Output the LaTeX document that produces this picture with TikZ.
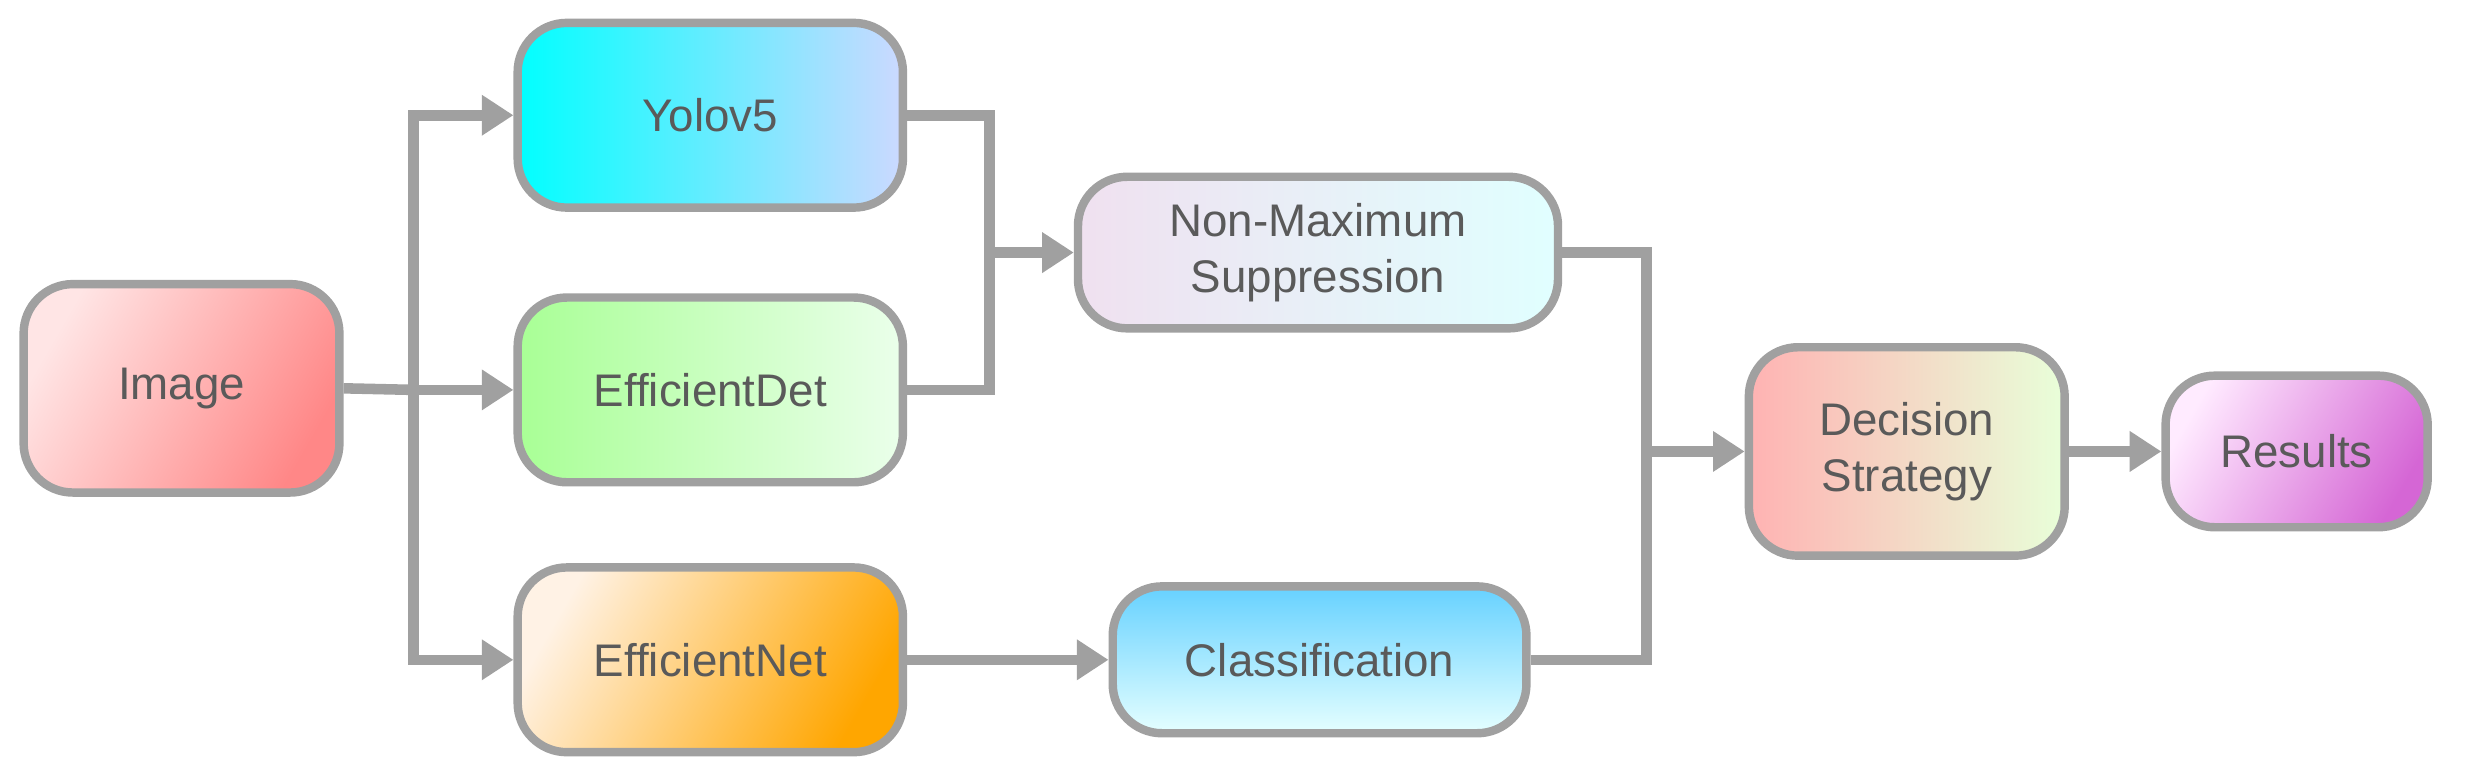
\documentclass[tikz,border=0pt]{standalone}
\usepackage{fontspec}
\setmainfont{Liberation Sans}
\usetikzlibrary{arrows.meta}
\definecolor{linegray}{RGB}{160,160,160}
\definecolor{textgray}{RGB}{90,90,90}
\tikzset{
  box/.style={draw=linegray, line width=2.4pt, rounded corners=14pt, align=center,
    text=textgray, font=\fontsize{13}{16}\selectfont, inner sep=0pt},
  flow/.style={draw=linegray, line width=3pt, -{Triangle[length=9pt,width=11pt]}},
  link/.style={draw=linegray, line width=3pt}
}
\begin{document}
\begin{tikzpicture}[x=0.015784cm, y=-0.015784cm]
  \useasboundingbox (0,0) rectangle (1568,490);
  % Bloques
  \node[box, minimum width=200*0.15784mm, minimum height=132*0.15784mm,
        shading=axis, left color=red!10, right color=red!45!pink!80, shading angle=60] (img) at (115,246) {Image};
  \node[box, minimum width=244*0.15784mm, minimum height=117*0.15784mm,
        left color=cyan, right color=cyan!25!blue!20!white] (yolo) at (450,73) {Yolov5};
  \node[box, minimum width=244*0.15784mm, minimum height=117*0.15784mm,
        left color=green!35!white!90!lime, right color=green!8!white] (det) at (450,247) {EfficientDet};
  \node[box, minimum width=244*0.15784mm, minimum height=117*0.15784mm,
        shading=axis, left color=orange!10, right color=orange!70!yellow, shading angle=60] (net) at (450,418) {EfficientNet};
  \node[box, minimum width=304*0.15784mm, minimum height=96*0.15784mm,
        left color=violet!12, right color=cyan!12] (nms) at (835,160) {Non-Maximum\\Suppression};
  \node[box, minimum width=262*0.15784mm, minimum height=93*0.15784mm,
        top color=cyan!70!blue!60!white, bottom color=cyan!10] (cls) at (836,418) {Classification};
  \node[box, minimum width=200*0.15784mm, minimum height=132*0.15784mm,
        left color=red!30, right color=yellow!40!green!15] (dec) at (1208,286) {Decision\\Strategy};
  \node[box, minimum width=166*0.15784mm, minimum height=96*0.15784mm,
        shading=axis, left color=magenta!8, right color=magenta!45!violet!60, shading angle=60] (res) at (1455,286) {Results};

  % Puntos de union
  \coordinate (split) at (262,247);
  \coordinate (joinA) at (627,160);
  \coordinate (joinB) at (1043,286);

  % Flechas
  \draw[link] (img.east) -- (split);
  \draw[flow] (split) |- (yolo.west);
  \draw[flow] (split) -- (det.west);
  \draw[flow] (split) |- (net.west);
  \draw[link] (yolo.east) -| (joinA);
  \draw[link] (det.east) -| (joinA);
  \draw[flow] (joinA) -- (nms.west);
  \draw[flow] (net.east) -- (cls.west);
  \draw[link] (nms.east) -| (joinB);
  \draw[link] (cls.east) -| (joinB);
  \draw[flow] (joinB) -- (dec.west);
  \draw[flow] (dec.east) -- (res.west);
\end{tikzpicture}
\end{document}
